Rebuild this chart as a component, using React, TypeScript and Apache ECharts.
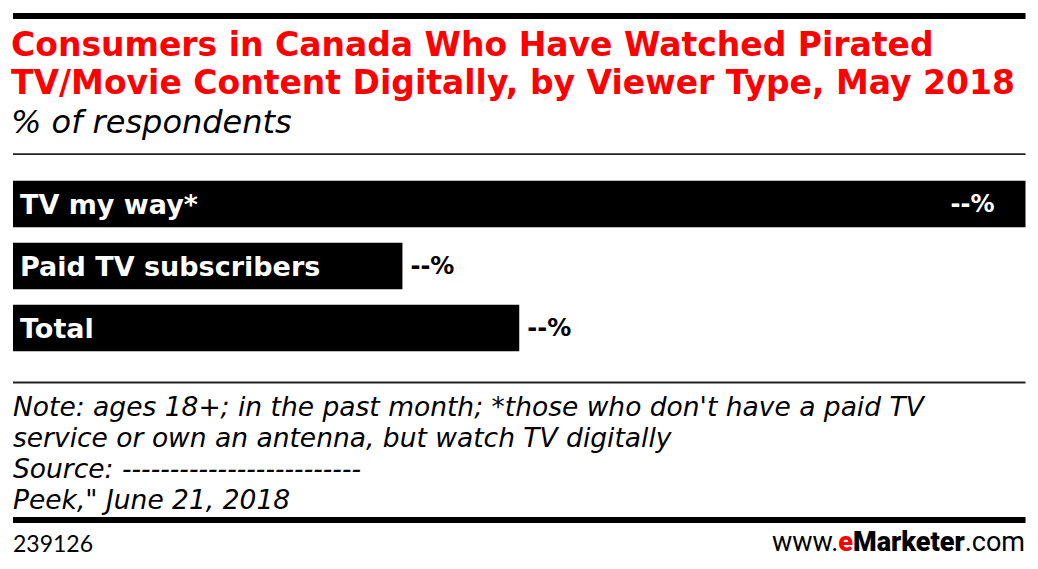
import React, { useEffect, useRef } from "react";
import * as echarts from "echarts";

const categories = ["TV my way*", "Paid TV subscribers", "Total"];
const values = [26, 10, 13];
const valueLabels = ["--%", "--%", "--%"];

const titleText =
  "Consumers in Canada Who Have Watched Pirated\nTV/Movie Content Digitally, by Viewer Type, May 2018";
const subtitleText = "% of respondents";
const noteLines = [
  "Note: ages 18+; in the past month; *those who don't have a paid TV",
  "service or own an antenna, but watch TV digitally",
  "Source: -------------------------",
  'Peek," June 21, 2018',
];
const chartId = "239126";

const BOLD = "'DejaVu Sans', sans-serif";
const LIGHT = "'DejaVu Sans', sans-serif";

const App = () => {
  const chartRef = useRef<HTMLDivElement>(null);

  useEffect(() => {
    if (!chartRef.current) return;
    const chart = echarts.init(chartRef.current, null, { renderer: "svg" });

    const options = {
      animation: false,
      backgroundColor: "#ffffff",
      title: {
        text: titleText,
        subtext: subtitleText,
        left: 11,
        top: 25,
        itemGap: 4,
        padding: 0,
        textStyle: {
          fontFamily: BOLD,
          fontWeight: 700,
          fontSize: 33,
          lineHeight: 38,
          color: "#ff0000",
        },
        subtextStyle: {
          fontFamily: LIGHT,
          fontStyle: "italic",
          fontWeight: 300,
          fontSize: 32,
          lineHeight: 34,
          color: "#000000",
        },
      },
      grid: { left: 13, right: 12.5, top: 173, height: 186 },
      xAxis: { type: "value", min: 0, max: 26, show: false },
      yAxis: {
        type: "category",
        data: categories,
        inverse: true,
        show: false,
      },
      series: [
        {
          type: "bar",
          data: values,
          barCategoryGap: "25%",
          barGap: "-100%",
          itemStyle: { color: "#000000" },
          label: {
            show: true,
            position: "insideLeft",
            distance: 7,
            formatter: "{b}",
            color: "#ffffff",
            fontFamily: BOLD,
            fontWeight: 700,
            fontSize: 27,
          },
          silent: true,
        },
        {
          type: "bar",
          barGap: "-100%",
          data: values.map((v, i) => ({
            value: v,
            label:
              i === 0
                ? { position: "insideRight", distance: 31, color: "#ffffff" }
                : { position: "right", distance: 8, color: "#000000" },
          })),
          itemStyle: { color: "transparent" },
          label: {
            show: true,
            formatter: (p: any) => valueLabels[p.dataIndex],
            fontFamily: BOLD,
            fontWeight: 700,
            fontSize: 24,
          },
          silent: true,
        },
      ],
      graphic: [
        { type: "rect", shape: { x: 13, y: 13, width: 1012.5, height: 6 }, style: { fill: "#000" } },
        { type: "rect", shape: { x: 13, y: 153.3, width: 1012.5, height: 1.7 }, style: { fill: "#222" } },
        { type: "rect", shape: { x: 13, y: 381.5, width: 1012.5, height: 2 }, style: { fill: "#222" } },
        { type: "rect", shape: { x: 13, y: 517, width: 1012.5, height: 6 }, style: { fill: "#000" } },
        ...noteLines.map((t, i) => ({
          type: "text",
          left: 13,
          top: 393 + i * 31,
          style: {
            text: t,
            fontFamily: LIGHT,
            fontStyle: "italic",
            fontWeight: 300,
            fontSize: 26.5,
            fill: "#000",
          },
        })),
        {
          type: "text",
          left: 13,
          top: 531,
          style: { text: chartId, fontFamily: "Lato, sans-serif", fontSize: 23, fill: "#000" },
        },
        {
          type: "text",
          right: 13,
          top: 528,
          style: {
            text: "{a|www.}{b|e}{c|Marketer}{a|.com}",
            rich: {
              a: { fontFamily: "Roboto, sans-serif", fontSize: 27, fill: "#000" },
              b: { fontFamily: "Roboto, sans-serif", fontWeight: 900, fontSize: 27, fill: "#ff0000" },
              c: { fontFamily: "Roboto, sans-serif", fontWeight: 900, fontSize: 27, fill: "#000" },
            },
          },
        },
      ],
    };

    chart.setOption(options);
    return () => chart.dispose();
  }, []);

  return (
    <div
      ref={chartRef}
      style={{ position: "fixed", left: 0, top: 0, width: "1038px", height: "569px" }}
    />
  );
};

export default App;
